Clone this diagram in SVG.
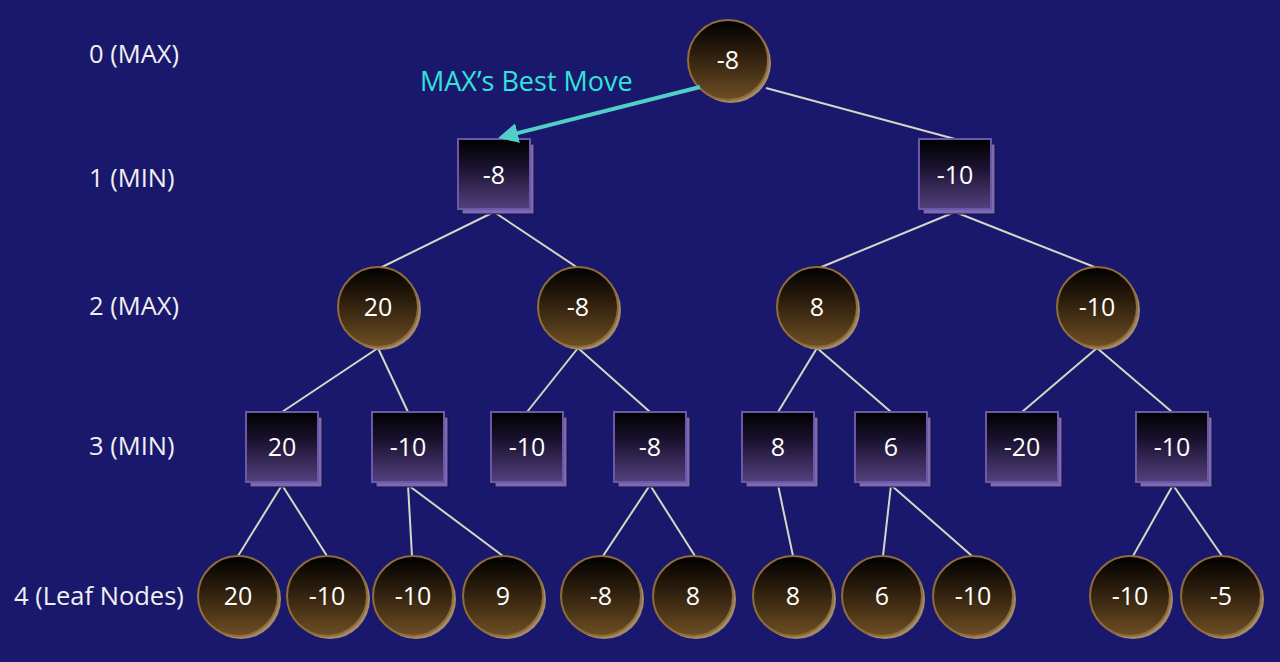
<svg xmlns="http://www.w3.org/2000/svg" width="1280" height="662" viewBox="0 0 1280 662">
<defs>
<linearGradient id="gc" x1="0" y1="0" x2="0" y2="1">
<stop offset="0" stop-color="#000000"/>
<stop offset="0.4" stop-color="#2a1c0c"/>
<stop offset="1" stop-color="#6e4f24"/>
</linearGradient>
<linearGradient id="gs" x1="0" y1="0" x2="0" y2="1">
<stop offset="0" stop-color="#000000"/>
<stop offset="0.4" stop-color="#1a1230"/>
<stop offset="1" stop-color="#54407f"/>
</linearGradient>
<marker id="ah" viewBox="0 0 10 10" refX="8" refY="5" markerWidth="5" markerHeight="5" orient="auto" markerUnits="strokeWidth">
<path d="M0,0 L10,5 L0,10 z" fill="#4fcfc6"/>
</marker>
<g id="circ">
<circle cx="3" cy="3" r="40" fill="#a08a6c"/>
<circle cx="0" cy="0" r="40" fill="url(#gc)" stroke="#8f6c38" stroke-width="2"/>
</g>
<g id="sq">
<rect x="-32" y="-30" width="72" height="70" fill="#7a68b8" stroke="#1a1430" stroke-width="1"/>
<rect x="-36" y="-35" width="72" height="70" fill="url(#gs)" stroke="#6b58a6" stroke-width="2"/>
</g>
</defs>
<style>
.lv{font-family:"Open Sans",Lato,sans-serif;font-size:25.5px;fill:#f0f0f0}
.nv{font-family:"Open Sans",Lato,sans-serif;font-size:25px;fill:#ffffff;text-anchor:middle}
.ed{stroke:#d6d6c6;stroke-width:2;fill:none}
</style>
<rect width="1280" height="662" fill="#1a186c"/>

<g id="levels">
<text class="lv" x="89" y="63">0 (MAX)</text>
<text class="lv" x="89" y="187">1 (MIN)</text>
<text class="lv" x="89" y="315">2 (MAX)</text>
<text class="lv" x="89" y="455">3 (MIN)</text>
<text class="lv" x="14" y="605">4 (Leaf Nodes)</text>
</g>

<g id="connectors">
<line class="ed" x1="766" y1="88" x2="955" y2="139"/>
<line class="ed" x1="494" y1="212" x2="380" y2="268"/>
<line class="ed" x1="494" y1="212" x2="578" y2="268"/>
<line class="ed" x1="955" y1="212" x2="819" y2="268"/>
<line class="ed" x1="955" y1="212" x2="1097" y2="268"/>
<line class="ed" x1="378" y1="348" x2="282" y2="412"/>
<line class="ed" x1="378" y1="348" x2="408" y2="412"/>
<line class="ed" x1="578" y1="348" x2="527" y2="412"/>
<line class="ed" x1="578" y1="348" x2="650" y2="412"/>
<line class="ed" x1="817" y1="348" x2="778" y2="412"/>
<line class="ed" x1="817" y1="348" x2="891" y2="412"/>
<line class="ed" x1="1097" y1="348" x2="1022" y2="412"/>
<line class="ed" x1="1097" y1="348" x2="1172" y2="412"/>
<line class="ed" x1="282" y1="485" x2="238" y2="556"/>
<line class="ed" x1="282" y1="485" x2="327" y2="556"/>
<line class="ed" x1="408" y1="485" x2="412" y2="556"/>
<line class="ed" x1="408" y1="485" x2="503" y2="556"/>
<line class="ed" x1="650" y1="485" x2="603" y2="556"/>
<line class="ed" x1="650" y1="485" x2="695" y2="556"/>
<line class="ed" x1="778" y1="485" x2="793" y2="556"/>
<line class="ed" x1="891" y1="485" x2="883" y2="556"/>
<line class="ed" x1="891" y1="485" x2="972" y2="556"/>
<line class="ed" x1="1173" y1="485" x2="1133" y2="556"/>
<line class="ed" x1="1173" y1="485" x2="1222" y2="556"/>
</g>

<g id="n0"><use href="#circ" x="728" y="60"/><text class="nv" x="728" y="69">-8</text></g>

<g id="n1a"><use href="#sq" x="494" y="174"/><text class="nv" x="494" y="184">-8</text></g>
<g id="n1b"><use href="#sq" x="955" y="174"/><text class="nv" x="955" y="184">-10</text></g>

<g id="n2a"><use href="#circ" x="378" y="307"/><text class="nv" x="378" y="316">20</text></g>
<g id="n2b"><use href="#circ" x="578" y="307"/><text class="nv" x="578" y="316">-8</text></g>
<g id="n2c"><use href="#circ" x="817" y="307"/><text class="nv" x="817" y="316">8</text></g>
<g id="n2d"><use href="#circ" x="1097" y="307"/><text class="nv" x="1097" y="316">-10</text></g>

<g id="n3a"><use href="#sq" x="282" y="447"/><text class="nv" x="282" y="456">20</text></g>
<g id="n3b"><use href="#sq" x="408" y="447"/><text class="nv" x="408" y="456">-10</text></g>
<g id="n3c"><use href="#sq" x="527" y="447"/><text class="nv" x="527" y="456">-10</text></g>
<g id="n3d"><use href="#sq" x="650" y="447"/><text class="nv" x="650" y="456">-8</text></g>
<g id="n3e"><use href="#sq" x="778" y="447"/><text class="nv" x="778" y="456">8</text></g>
<g id="n3f"><use href="#sq" x="891" y="447"/><text class="nv" x="891" y="456">6</text></g>
<g id="n3g"><use href="#sq" x="1022" y="447"/><text class="nv" x="1022" y="456">-20</text></g>
<g id="n3h"><use href="#sq" x="1172" y="447"/><text class="nv" x="1172" y="456">-10</text></g>

<g id="n4a"><use href="#circ" x="238" y="596"/><text class="nv" x="238" y="605">20</text></g>
<g id="n4b"><use href="#circ" x="327" y="596"/><text class="nv" x="327" y="605">-10</text></g>
<g id="n4c"><use href="#circ" x="413" y="596"/><text class="nv" x="413" y="605">-10</text></g>
<g id="n4d"><use href="#circ" x="503" y="596"/><text class="nv" x="503" y="605">9</text></g>
<g id="n4e"><use href="#circ" x="601" y="596"/><text class="nv" x="601" y="605">-8</text></g>
<g id="n4f"><use href="#circ" x="693" y="596"/><text class="nv" x="693" y="605">8</text></g>
<g id="n4g"><use href="#circ" x="793" y="596"/><text class="nv" x="793" y="605">8</text></g>
<g id="n4h"><use href="#circ" x="882" y="596"/><text class="nv" x="882" y="605">6</text></g>
<g id="n4i"><use href="#circ" x="973" y="596"/><text class="nv" x="973" y="605">-10</text></g>
<g id="n4j"><use href="#circ" x="1130" y="596"/><text class="nv" x="1130" y="605">-10</text></g>
<g id="n4k"><use href="#circ" x="1221" y="596"/><text class="nv" x="1221" y="605">-5</text></g>

<g id="best-move">
<line x1="700" y1="87" x2="502" y2="137" stroke="#4fcfc6" stroke-width="4" marker-end="url(#ah)"/>
<text x="420" y="91" font-family="'Open Sans',Lato,sans-serif" font-size="27" fill="#33e3da">MAX’s Best Move</text>
</g>
</svg>
